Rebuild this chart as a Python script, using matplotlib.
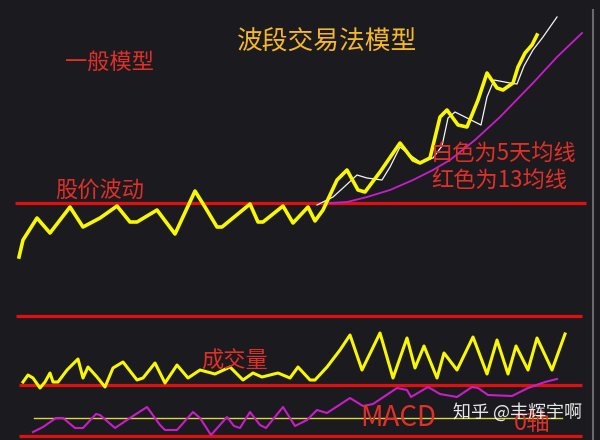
import matplotlib.pyplot as plt

plt.rcParams['font.family'] = ['Noto Sans CJK SC', 'DejaVu Sans']

# price wave (yellow)
price_x = [19, 23, 37, 50, 70, 83, 100, 117, 130, 137, 157, 175, 195, 205, 217, 222, 250, 258, 263,
           283, 293, 308, 315, 323, 337, 347, 358, 365, 380, 400, 413, 420, 430, 440, 447, 458, 467,
           478, 487, 497, 503, 513, 518, 525, 532, 537]
price_y = [257, 240, 218, 233, 207, 227, 218, 206, 222, 222, 210, 234, 191, 207, 227, 227, 204, 222, 222,
           206, 223, 207, 221, 210, 180, 170, 190, 192, 172, 143, 160, 163, 158, 117, 110, 125, 127,
           100, 73, 88, 90, 83, 67, 53, 45, 35]

# 5-day MA (white)
ma5_x = [317, 333, 343, 357, 367, 382, 390, 400, 410, 420, 433, 442, 448, 455, 467, 481, 487, 494,
         510, 517, 524, 533, 543, 557]
ma5_y = [205, 197, 188, 175, 178, 180, 167, 147, 155, 162, 158, 146, 118, 112, 118, 125, 97, 80,
         83, 84, 66, 50, 37, 17]

# 13-day MA (magenta)
ma13_x = [330, 347, 367, 390, 413, 433, 450, 475, 500, 533, 557, 582]
ma13_y = [203, 202, 197, 190, 180, 170, 160, 140, 117, 83, 57, 33]

# volume (yellow)
vol_x = [23, 28, 33, 40, 45, 50, 53, 58, 67, 78, 83, 88, 97, 105, 113, 123, 137, 143, 155, 165, 177,
         188, 200, 215, 230, 243, 253, 262, 278, 290, 298, 310, 315, 327, 340, 350, 362, 380, 393,
         407, 415, 424, 437, 444, 457, 473, 487, 497, 508, 516, 528, 537, 552, 565]
vol_y = [382, 375, 378, 388, 382, 373, 382, 382, 370, 359, 378, 367, 377, 387, 368, 362, 380, 378, 363, 383, 365,
         378, 370, 374, 367, 380, 373, 377, 373, 378, 367, 380, 380, 367, 350, 335, 370, 333, 378,
         338, 368, 346, 378, 353, 370, 337, 374, 340, 374, 346, 370, 338, 370, 334]

# MACD (magenta)
macd_x = [33, 43, 56, 63, 75, 83, 96, 100, 115, 133, 147, 160, 165, 177, 193, 200, 211, 227, 234, 240,
          250, 260, 266, 283, 295, 307, 317, 327, 350, 363, 373, 397, 407, 411, 428, 440, 457, 472,
          478, 488, 512, 528, 545, 557]
macd_y = [432, 427, 418, 418, 428, 428, 414, 415, 428, 416, 407, 425, 430, 430, 412, 418, 435, 417, 426, 428,
          412, 425, 428, 407, 426, 420, 410, 413, 398, 406, 404, 388, 390, 397, 387, 394, 397, 387,
          388, 395, 396, 388, 382, 379]

# horizontal guide lines: (y, x_start, x_end)
red_levels = [(203, 15, 586), (316, 16, 582), (385, 19, 582), (436, 19, 582)]
zero_level = (418, 34, 562)

bg = '#1b1a1f'
fig = plt.figure(figsize=(6, 4.4), dpi=100, facecolor=bg)
ax = fig.add_axes([0, 0, 1, 1])
ax.set_facecolor(bg)
ax.set_xlim(0, 600)
ax.set_ylim(440, 0)
ax.axis('off')

for y, x0, x1 in red_levels:
    ax.plot([x0, x1], [y, y], color='#e01010', lw=2.3, solid_capstyle='butt')
ax.plot([zero_level[1], zero_level[2]], [zero_level[0], zero_level[0]], color='#d8d840', lw=1.0)

ax.plot(ma13_x, ma13_y, color='#c81ec8', lw=1.3)
ax.plot(ma5_x, ma5_y, color='#f4f4f4', lw=0.9)
ax.plot(price_x, price_y, color='#f8f800', lw=2.6, solid_joinstyle='round')
ax.plot(vol_x, vol_y, color='#f8f800', lw=2.2, solid_joinstyle='round')
ax.plot(macd_x, macd_y, color='#c81ec8', lw=1.5)

# right frame border
ax.plot([593, 593], [10, 440], color='#6a6a6a', lw=1.5)

red = '#e03028'
ax.text(65, 62, '一般模型', color=red, fontsize=16, va='center')
ax.text(237, 43, '波段交易法模型', color='#f5b828', fontsize=18.5, va='center')
ax.text(55, 190, '股价波动', color=red, fontsize=16, va='center')
ax.text(431, 153, '白色为5天均线', color=red, fontsize=16, va='center')
ax.text(431, 180, '红色为13均线', color=red, fontsize=16, va='center')
ax.text(201, 361, '成交量', color=red, fontsize=16, va='center')
ax.text(360, 418, 'MACD', color=red, fontsize=20, va='center')
ax.text(514, 423, '0轴', color=red, fontsize=17, va='center')
ax.text(453, 412, '知乎 @丰辉宇啊', color='white', fontsize=13, va='center', alpha=0.9)

fig.savefig('out.png', dpi=100, facecolor=bg)
